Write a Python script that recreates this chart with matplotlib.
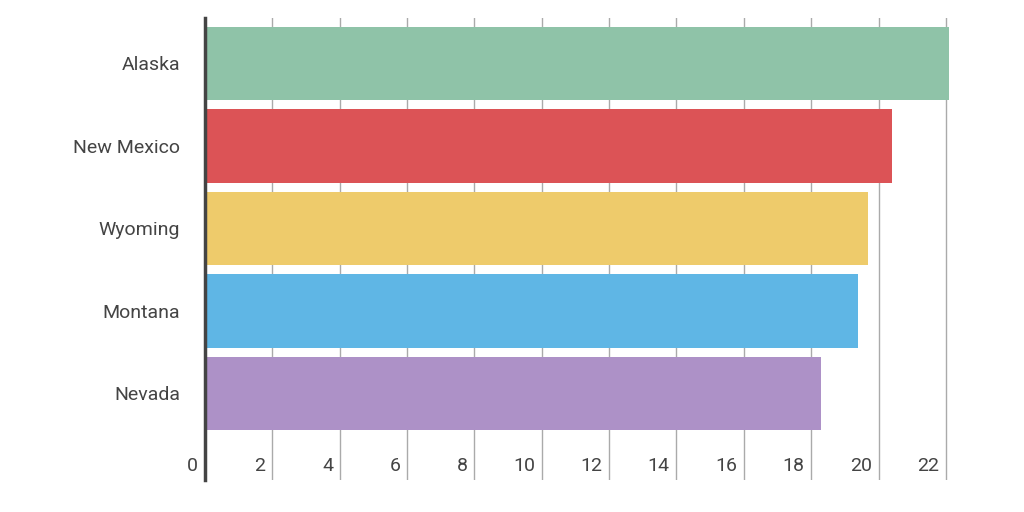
import matplotlib
matplotlib.use("Agg")
import matplotlib.pyplot as plt

states = ["Alaska", "New Mexico", "Wyoming", "Montana", "Nevada"]
values = [22.1, 20.4, 19.7, 19.4, 18.3]
colors = ["#8fc3a8", "#dc5356", "#eecb6b", "#5fb6e5", "#ad91c7"]
xticks = [0, 2, 4, 6, 8, 10, 12, 14, 16, 18, 20, 22]

plt.rcParams['font.family'] = ['Roboto', 'DejaVu Sans']
fig = plt.figure(figsize=(10.24, 5.12), dpi=100)
ax = fig.add_axes([205/1024, 32/512, 751/1024, 462/512])
ax.set_xlim(0, 22.3)
ax.set_ylim(5.05, -0.55)
for x in xticks[1:]:
    ax.axvline(x, color="#aaaaaa", lw=1, zorder=0)
ax.barh(range(len(states)), values, height=0.89, color=colors, zorder=2)
for x in xticks:
    ax.text(x - 0.2, 4.88, str(x), ha="right", va="center", fontsize=14, color="#444444")
ax.set_yticks(range(len(states)))
ax.set_yticklabels(states, fontsize=14, color="#444444")
ax.tick_params(axis="y", length=0, pad=18)
ax.set_xticks([])
for s in ["top", "right", "bottom"]:
    ax.spines[s].set_visible(False)
ax.spines["left"].set_color("#444444")
ax.spines["left"].set_linewidth(2.5)
fig.savefig("out.png", dpi=100)
